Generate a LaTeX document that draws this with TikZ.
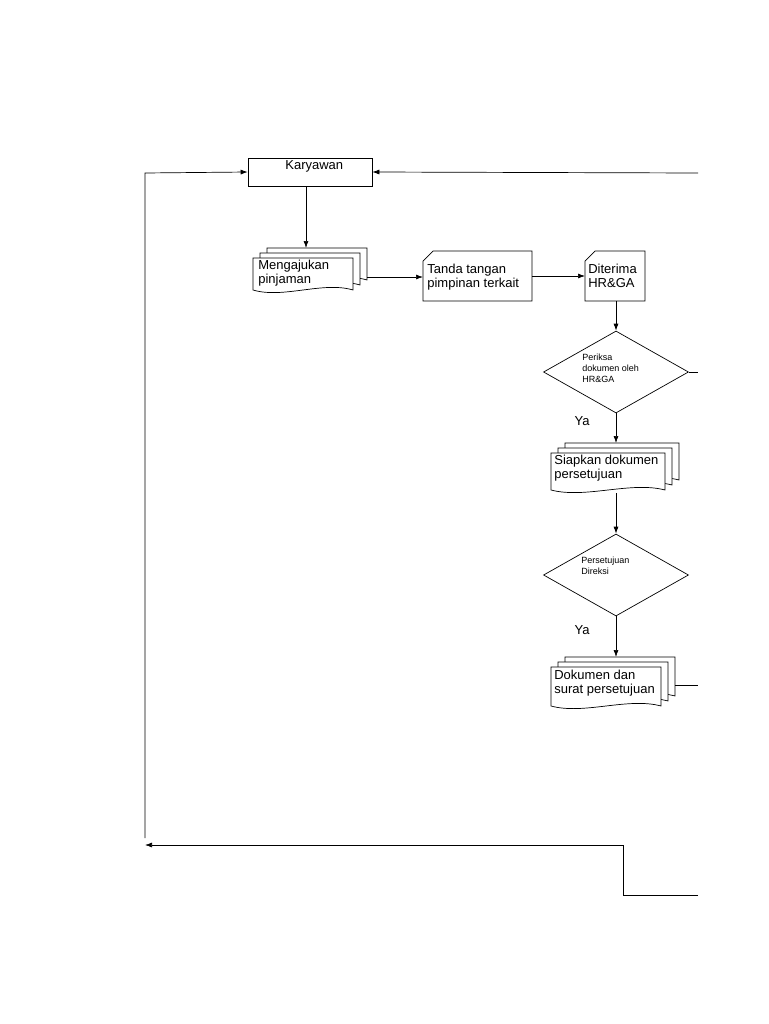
\documentclass[tikz,border=0pt]{standalone}
\usepackage{fontspec}
\setmainfont{Liberation Sans}
\usetikzlibrary{shapes.geometric,arrows.meta}
\newcommand\docpage[4]{\draw[fill=white] (#1,#2) -- ({#1+#3},#2) -- ({#1+#3},{#2+#4}) .. controls ({#1+0.7*#3},{#2+#4-9}) and ({#1+0.3*#3},{#2+#4+9}) .. (#1,{#2+#4}) -- cycle;}
\newcommand\mdoc[4]{\docpage{#1+14}{#2-10}{#3}{#4}\docpage{#1+7}{#2-5}{#3}{#4}\docpage{#1}{#2}{#3}{#4}}
\begin{document}
\begin{tikzpicture}[x=1pt,y=-1pt,
  line width=0.7pt,
  arr/.style={-{Latex[length=7pt,width=5pt]}},
  txt/.style={font=\fontsize{13}{14}\selectfont,align=left,anchor=north west,inner sep=0pt},
  stxt/.style={font=\fontsize{9}{11}\selectfont,align=left,anchor=north west,inner sep=0pt},
  box/.style={draw,fill=white,minimum width=124pt,minimum height=28pt,inner sep=0pt},
  dia/.style={draw,diamond,minimum width=145pt,minimum height=82pt,aspect=1.77,inner sep=0pt}]
\useasboundingbox (0,0) rectangle (768,1024);
% Karyawan
\node[box] (kar) at (310,172) {};
\node[txt] (kart) at (285,160) {Karyawan};
% Mengajukan
\mdoc{253}{258}{100}{32}
\node[txt] (meng) at (258,260) {Mengajukan\\pinjaman};
\coordinate (mtop) at (306,248);
\coordinate (mright) at (367,277);
% Tanda tangan
\draw[fill=white] (433,251) -- (532,251) -- (532,301) -- (423,301) -- (423,261) -- cycle;
\node[txt] (tanda) at (427,264) {Tanda tangan\\pimpinan terkait};
\coordinate (tl) at (423,277);
\coordinate (tr) at (532,276);
% Diterima
\draw[fill=white] (595,251) -- (645,251) -- (645,301) -- (585,301) -- (585,261) -- cycle;
\node[txt] (dit) at (588,264) {Diterima\\HR\&GA};
\coordinate (dl) at (585,276);
\coordinate (db) at (616,301);
% Diamond 1
\node[dia] (d1) at (616,372) {};
\node[stxt] (d1t) at (582,354) {Periksa\\dokumen oleh\\HR\&GA};
\node[font=\fontsize{13}{14}\selectfont] (ya1) at (582,421) {Ya};
% Siapkan
\mdoc{551}{453}{114}{37}
\node[txt] (siap) at (554,455) {Siapkan dokumen\\persetujuan};
\coordinate (stop) at (616,443);
\coordinate (sbot) at (616,493);
% Diamond 2
\node[dia] (d2) at (616,575) {};
\node[stxt] (d2t) at (581,557) {Persetujuan\\Direksi};
\node[font=\fontsize{13}{14}\selectfont] (ya2) at (582,630) {Ya};
% Dokumen dan
\mdoc{551}{667}{110}{39}
\node[txt] (dok) at (554,670) {Dokumen dan\\surat persetujuan};
\coordinate (dtop) at (616,657);
\coordinate (dright) at (675,685);
% connectors
\coordinate (lt) at (145,173);
\coordinate (lb) at (145,838);
\coordinate (rt) at (698,173);
\coordinate (r1) at (698,372);
\coordinate (r2) at (698,685);
\coordinate (b1) at (698,895);
\coordinate (b2) at (623,895);
\coordinate (b3) at (623,845);
\coordinate (b4) at (145,845);
\draw[arr] (lb) -- (lt) -- (kar.west);
\draw[arr] (rt) -- (kar.east);
\draw[arr] (kar.south -| mtop) -- (mtop);
\draw[arr] (mright) -- (tl);
\draw[arr] (tr) -- (dl);
\draw[arr] (db) -- (d1.north);
\draw (d1.east) -- (r1);
\draw[arr] (d1.south) -- (stop);
\draw[arr] (sbot) -- (d2.north);
\draw[arr] (d2.south) -- (dtop);
\draw (dright) -- (r2);
\draw[arr] (b1) -- (b2) -- (b3) -- (b4);
\end{tikzpicture}
\end{document}
